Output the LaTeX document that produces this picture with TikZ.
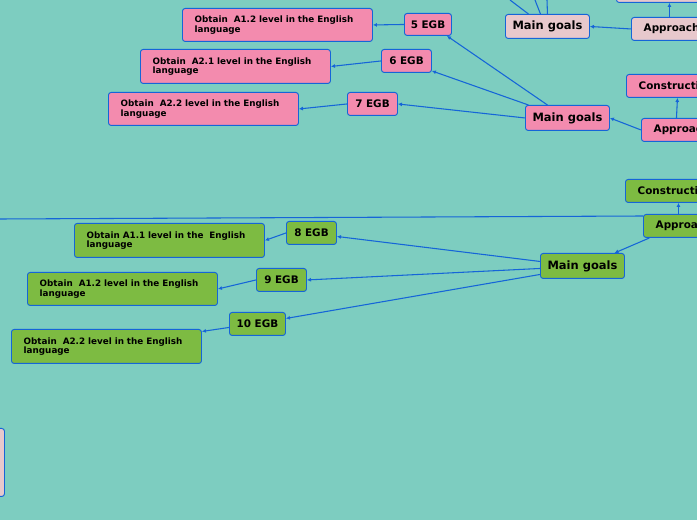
\documentclass[tikz,border=0pt]{standalone}
\usepackage{fontspec}
\setmainfont{DejaVu Sans}
\usetikzlibrary{arrows.meta}
\begin{document}
\begin{tikzpicture}[x=0.75pt,y=-0.75pt,
 box/.style={draw=linec, line width=0.7pt, rounded corners=2pt, inner sep=0pt, font=\bfseries},
 pk/.style={box, fill=pinkc},
 lp/.style={box, fill=lpink},
 gr/.style={box, fill=greenc},
 goal/.style={font=\bfseries\fontsize{6.6}{7}\selectfont, align=left, text width=#1},
 egb/.style={font=\bfseries\fontsize{7.8}{9}\selectfont},
 mg/.style={font=\bfseries\fontsize{8.6}{10}\selectfont},
 ln/.style={draw=linec, line width=0.8pt},
 ar/.style={ln, -{Latex[length=3pt,width=3pt]}}]
\definecolor{bg}{HTML}{7DCDC0}
\definecolor{pinkc}{HTML}{F38BAE}
\definecolor{lpink}{HTML}{E7C8CC}
\definecolor{greenc}{HTML}{7DBB42}
\definecolor{linec}{HTML}{1565D8}
\fill[bg] (0,0) rectangle (697,520);
\useasboundingbox (0,0) rectangle (697,520);
\newcommand\bx[7]{\node[#1, minimum width=#4*0.75pt, minimum height=#5*0.75pt, anchor=north west] (#2) at (#3) {};
 \node[#6, anchor=west] at ([xshift=6pt]#2.west) {#7};}
\newcommand\cx[7]{\node[#1, #6, minimum width=#4*0.75pt, minimum height=#5*0.75pt, anchor=north west] (#2) at (#3) {#7};}
% pink top group
\bx{pk}{g5}{182,8}{190}{33}{goal=170*0.75pt}{Obtain\ \ A1.2 level in the English language}
\cx{pk}{e5}{404,13}{47}{22}{egb}{5 EGB}
\bx{pk}{g6}{140,49}{190}{34}{goal=170*0.75pt}{Obtain\ \ A2.1 level in the English language}
\cx{pk}{e6}{381,49}{50}{23}{egb}{6 EGB}
\bx{pk}{g7}{108,92}{190}{33}{goal=170*0.75pt}{Obtain\ \ A2.2 level in the English language}
\cx{pk}{e7}{347,92}{50}{23}{egb}{7 EGB}
\cx{pk}{mg2}{525,105}{84}{25}{mg}{Main goals}
\bx{pk}{ap2}{641,118}{70}{23}{egb}{Approach}
\bx{pk}{co2}{626,74}{90}{23}{egb}{Constructivism}
\cx{lp}{mg1}{505,14}{84}{24}{mg}{Main goals}
\bx{lp}{ap1}{631,17}{80}{23}{egb}{Approach}
\node[lp, minimum width=90*0.75pt, minimum height=20*0.75pt, anchor=north west] (tb) at (616,-18) {};
\node[lp, minimum width=24*0.75pt, minimum height=68*0.75pt, anchor=north west] (lb) at (-20,428) {};
% green
\bx{gr}{co3}{625,179}{90}{23}{egb}{Constructivism}
\bx{gr}{ap3}{643,214}{70}{23}{egb}{Approach}
\cx{gr}{mg3}{540,253}{84}{25}{mg}{Main goals}
\cx{gr}{e8}{286,221}{50}{23}{egb}{8 EGB}
\bx{gr}{g8}{74,223}{190}{34}{goal=175*0.75pt}{Obtain A1.1 level in the\ \ English language}
\cx{gr}{e9}{256,268}{50}{23}{egb}{9 EGB}
\bx{gr}{g9}{27,272}{190}{33}{goal=175*0.75pt}{Obtain\ \ A1.2 level in the English language}
\cx{gr}{e10}{229,312}{56}{23}{egb}{10 EGB}
\bx{gr}{g10}{11,329}{190}{34}{goal=175*0.75pt}{Obtain\ \ A2.2 level in the English language}
% connectors
\coordinate (t1) at (510,0); \coordinate (t2) at (535,0); \coordinate (t3) at (547,0);
\draw[ln] ([shift={(-19,0)}]mg1.north) -- (t1);
\draw[ln] ([shift={(-7,0)}]mg1.north) -- (t2);
\draw[ln] (mg1.north) -- (t3);
\draw[ar] (ap1.west) -- (mg1.east);
\draw[ar] ([shift={(-2,0)}]ap1.north) -- ([shift={(8,0)}]tb.south);
\draw[ar] (ap2.west) -- (mg2.east);
\draw[ar] (ap2.north) -- ([shift={(6,0)}]co2.south);
\draw[ar] ([shift={(-20,0)}]mg2.north) -- ([shift={(19,0)}]e5.south);
\draw[ar] ([shift={(-39,0)}]mg2.north) -- ([shift={(0,-2)}]e6.south east);
\draw[ar] (mg2.west) -- (e7.east);
\draw[ar] (e5.west) -- (g5.east);
\draw[ar] (e6.west) -- (g6.east);
\draw[ar] (e7.west) -- (g7.east);
\coordinate (le) at (0,219);
\draw[ln] ([shift={(0,2)}]ap3.north west) -- (le);
\draw[ar] (ap3.north) -- ([shift={(8,0)}]co3.south);
\draw[ar] ([shift={(-29,0)}]ap3.south) -- ([shift={(32,0)}]mg3.north);
\draw[ar] ([shift={(0,-4.5)}]mg3.west) -- ([shift={(0,3.5)}]e8.east);
\draw[ar] ([shift={(0,2.5)}]mg3.west) -- (e9.east);
\draw[ar] ([shift={(0,8.5)}]mg3.west) -- ([shift={(0,-5.5)}]e10.east);
\draw[ar] (e8.west) -- (g8.east);
\draw[ar] (e9.west) -- (g9.east);
\draw[ar] ([shift={(0,3.5)}]e10.west) -- ([shift={(0,-15)}]g10.east);
\end{tikzpicture}
\end{document}
